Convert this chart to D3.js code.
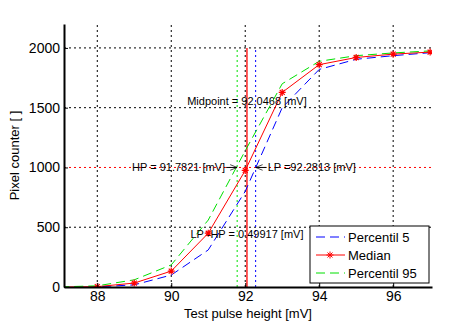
<!DOCTYPE html>
<html>
<head>
<meta charset="utf-8">
<script src="https://cdn.jsdelivr.net/npm/d3@7"></script>
<style>
	body { margin: 0; background: #fff; }
	text { font-family: "Liberation Sans", Arial, sans-serif; }
</style>
</head>
<body>
<svg id="chart" width="474" height="323"></svg>
<script>

	// test pulse heights [mV]
	var pulse = [87, 88, 89, 90, 91, 92, 93, 94, 95, 96, 97];
	// pixel counts
	var perc5 = [0, 1, 18, 100, 310, 800, 1500, 1820, 1905, 1935, 1960];
	var median = [0, 3, 33, 133, 450, 975, 1628, 1860, 1920, 1948, 1965];
	var perc95 = [1, 10, 60, 185, 560, 1140, 1700, 1888, 1935, 1958, 1975];

	var xTicks = [88, 90, 92, 94, 96];
	var yTicks = [0, 500, 1000, 1500, 2000];

	var hp = 91.7821, lp = 92.2813, midpoint = 92.0468, lpMinusHp = 0.49917, halfLevel = 1000;

	var seriesList = [
		{ name: "Percentil 5", values: perc5, color: "#0000ff", dash: "9,5", star: false },
		{ name: "Median", values: median, color: "#ff0000", dash: null, star: true },
		{ name: "Percentil 95", values: perc95, color: "#00e000", dash: "9,5", star: false }
	];

	var svg = d3.select("#chart");
	var pLeft = 64, pRight = 432, pTop = 24, pBottom = 287;

	var x = d3.scaleLinear().domain([87.1, 97.05]).range([pLeft, pRight]);
	var y = d3.scaleLinear().domain([0, 2200]).range([pBottom, pTop]);

	var defs = svg.append("defs");
	defs.append("clipPath").attr("id", "clip")
		.append("rect").attr("x", pLeft).attr("y", pTop)
		.attr("width", pRight - pLeft).attr("height", pBottom - pTop);

	defs.append("marker")
		.attr("id", "arrow").attr("viewBox", "0 0 10 10")
		.attr("refX", 10).attr("refY", 5)
		.attr("markerWidth", 7).attr("markerHeight", 7)
		.attr("markerUnits", "userSpaceOnUse")
		.attr("orient", "auto")
		.append("path").attr("d", "M0,1 L10,5 L0,9").attr("fill", "none").attr("stroke", "#000");

	// grid
	var grid = svg.append("g");
	grid.selectAll(".gx").data(xTicks).enter().append("line")
		.attr("x1", function(d) { return x(d); }).attr("x2", function(d) { return x(d); })
		.attr("y1", pBottom).attr("y2", pTop)
		.attr("stroke", "#000").attr("stroke-width", 1).attr("stroke-dasharray", "2,3");
	grid.selectAll(".gy").data(yTicks.filter(function(d) { return d > 0 && d != halfLevel; })).enter().append("line")
		.attr("x1", pLeft).attr("x2", pRight)
		.attr("y1", function(d) { return y(d); }).attr("y2", function(d) { return y(d); })
		.attr("stroke", "#000").attr("stroke-width", 1).attr("stroke-dasharray", "2,3");

	// half level line and vertical markers
	svg.append("line")
		.attr("x1", pLeft).attr("x2", pRight).attr("y1", y(halfLevel)).attr("y2", y(halfLevel))
		.attr("stroke", "#ff0000").attr("stroke-dasharray", "2,3");

	var vlines = [
		{ v: hp, color: "#00e000", dash: "2,3" },
		{ v: lp, color: "#0000ff", dash: "2,3" },
		{ v: midpoint, color: "#ff0000", dash: null }
	];
	svg.selectAll(".vl").data(vlines).enter().append("line")
		.attr("x1", function(d) { return x(d.v); }).attr("x2", function(d) { return x(d.v); })
		.attr("y1", y(0)).attr("y2", y(2000))
		.attr("stroke", function(d) { return d.color; })
		.attr("stroke-width", function(d) { return d.dash ? 1 : 1.3; })
		.attr("stroke-dasharray", function(d) { return d.dash; });

	// curves
	var line = d3.line()
		.x(function(d, i) { return x(pulse[i]); })
		.y(function(d) { return y(d); });

	var plot = svg.append("g").attr("clip-path", "url(#clip)");
	seriesList.forEach(function(s) {
		plot.append("path")
			.datum(s.values)
			.attr("d", line)
			.attr("fill", "none")
			.attr("stroke", s.color)
			.attr("stroke-width", 1)
			.attr("stroke-dasharray", s.dash);
	});

	// star marker: + and x strokes
	var starPath = "M-3.5,0L3.5,0M0,-3.5L0,3.5M-2.5,-2.5L2.5,2.5M-2.5,2.5L2.5,-2.5";
	plot.selectAll(".mk").data(median.slice(1)).enter().append("path")
		.attr("d", starPath)
		.attr("transform", function(d, i) { return "translate(" + x(pulse[i + 1]) + "," + y(d) + ")"; })
		.attr("fill", "none").attr("stroke", "#ff0000").attr("stroke-width", 1.2);

	// annotations
	var ann = svg.append("g").attr("font-size", 11).attr("fill", "#000");
	ann.append("text")
		.attr("x", x(midpoint)).attr("y", y(1555)).attr("dy", "0.35em")
		.attr("text-anchor", "middle")
		.text("Midpoint = " + midpoint + " [mV]");
	ann.append("text")
		.attr("x", x(hp) - 12).attr("y", y(halfLevel)).attr("dy", "0.35em")
		.attr("text-anchor", "end")
		.text("HP = " + hp + " [mV]");
	ann.append("line")
		.attr("x1", x(hp) - 11).attr("x2", x(hp)).attr("y1", y(halfLevel)).attr("y2", y(halfLevel))
		.attr("stroke", "#000").attr("marker-end", "url(#arrow)");
	ann.append("text")
		.attr("x", x(lp) + 12).attr("y", y(halfLevel)).attr("dy", "0.35em")
		.attr("text-anchor", "start")
		.text("LP =" + lp + " [mV]");
	ann.append("line")
		.attr("x1", x(lp) + 11).attr("x2", x(lp)).attr("y1", y(halfLevel)).attr("y2", y(halfLevel))
		.attr("stroke", "#000").attr("marker-end", "url(#arrow)");
	ann.append("text")
		.attr("x", x(midpoint)).attr("y", y(440)).attr("dy", "0.35em")
		.attr("text-anchor", "middle")
		.text("LP -HP = " + lpMinusHp + " [mV]");

	// axes
	var xAxis = d3.axisBottom(x).tickValues(xTicks).tickSizeInner(-4).tickSizeOuter(0).tickPadding(4);
	var yAxis = d3.axisLeft(y).tickValues(yTicks).tickFormat(d3.format("d"))
		.tickSizeInner(-4).tickSizeOuter(0).tickPadding(4);

	var gx = svg.append("g").attr("transform", "translate(0," + pBottom + ")").call(xAxis);
	var gy = svg.append("g").attr("transform", "translate(" + pLeft + ",0)").call(yAxis);
	[gx, gy].forEach(function(g) {
		g.select(".domain").attr("stroke", "#000").attr("stroke-width", 2);
		g.selectAll("text").attr("font-size", 14).attr("fill", "#000")
			.style("font-family", "Liberation Sans, Arial, sans-serif");
	});

	svg.append("text")
		.attr("x", (pLeft + pRight) / 2).attr("y", 318)
		.attr("text-anchor", "middle").attr("font-size", 13)
		.text("Test pulse height [mV]");
	svg.append("text")
		.attr("transform", "translate(19," + ((pTop + pBottom) / 2) + ") rotate(-90)")
		.attr("text-anchor", "middle").attr("font-size", 13)
		.text("Pixel counter [ ]");

	// legend
	var lg = svg.append("g").attr("transform", "translate(310,226)");
	lg.append("rect").attr("width", 119).attr("height", 57)
		.attr("fill", "#fff").attr("stroke", "#000").attr("stroke-width", 1);
	seriesList.forEach(function(s, i) {
		var cy = 11 + i * 18;
		lg.append("line").attr("x1", 6).attr("x2", 35).attr("y1", cy).attr("y2", cy)
			.attr("stroke", s.color).attr("stroke-dasharray", s.dash);
		if (s.star) {
			lg.append("path").attr("d", starPath).attr("transform", "translate(20," + cy + ")")
				.attr("fill", "none").attr("stroke", s.color).attr("stroke-width", 1);
		}
		lg.append("text").attr("x", 38).attr("y", cy).attr("dy", "0.35em")
			.attr("font-size", 13).text(s.name);
	});

</script>
</body>
</html>
